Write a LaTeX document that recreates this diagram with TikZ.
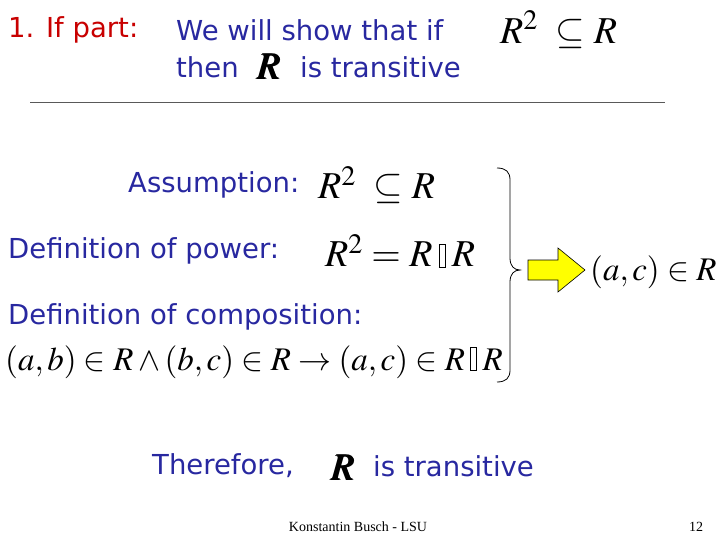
\documentclass[tikz,border=0pt]{standalone}
\usepackage{mathptmx}
\usepackage{bm}
\usepackage{fontspec}
\setmainfont{Liberation Serif}
\newfontfamily\comic{DejaVu Sans}
\definecolor{navy}{RGB}{40,40,160}
\definecolor{redt}{RGB}{200,0,0}
\definecolor{yel}{RGB}{255,255,0}
\newcommand{\bx}{{\setlength\fboxsep{0pt}\setlength\fboxrule{0.8pt}\fbox{\phantom{\rule{5pt}{22pt}}}}}
\begin{document}
\begin{tikzpicture}[x=1pt,y=-1pt,
  txt/.style={inner sep=0pt,anchor=west,text=navy,font=\comic\fontsize{27.5}{32}\selectfont},
  mth/.style={inner sep=0pt,anchor=west,font=\fontsize{38}{44}\selectfont},
  mths/.style={inner sep=0pt,anchor=west,font=\fontsize{33}{38}\selectfont}]
\useasboundingbox (0,0) rectangle (720,540);
\node[txt,text=redt] (t1) at (8,30) {1. If part:};
\node[txt] (t2) at (176,30) {We will show that if};
\node[mth] (m1) at (500,30) {$R^2\ \subseteq R$};
\node[txt] (t3) at (176,67) {then};
\node[mth] (r1) at (256,67) {$\bm{R}$};
\node[txt] (t4) at (300,67) {is transitive};
\draw[gray!70!black,line width=0.8pt] (30,102) coordinate (l1) -- (665,102) coordinate (l2);
\node[txt] (a1) at (128,185) {Assumption:};
\node[mth] (a2) at (318,185) {$R^2\ \subseteq R$};
\node[txt] (p1) at (8,251) {Definition of power:};
\node[mth] (p2) at (325,251) {$R^2=R$\,\bx\,$R$};
\node[txt] (c1) at (8,317) {Definition of composition:};
\node[mths] (c2) at (5,362) {$(a,b)\in R\wedge(b,c)\in R\rightarrow(a,c)\in R$\,\bx\,$R$};
\draw[line width=0.8pt] (497,168) .. controls (506,168) and (510,172) .. (510,180) -- (510,258)
  .. controls (510,266) and (514,270) .. (520,270) coordinate (tip)
  .. controls (514,270) and (510,274) .. (510,282) -- (510,370)
  .. controls (510,378) and (506,382) .. (497,382);
\draw[fill=yel,line width=0.6pt] (528,260) -- (558,260) -- (558,248) -- (585,270) -- (558,292) -- (558,280) -- (528,280) -- cycle;
\node[mths] (res) at (590,272) {$(a,c)\in R$};
\node[txt] (f1) at (152,466) {Therefore,};
\node[mth] (r2) at (330,468) {$\bm{R}$};
\node[txt] (f2) at (373,466) {is transitive};
\node[inner sep=0pt,font=\fontsize{14}{16}\selectfont] (ft) at (358,527) {Konstantin Busch - LSU};
\node[inner sep=0pt,font=\fontsize{14}{16}\selectfont] (pg) at (696,527) {12};
\end{tikzpicture}
\end{document}
